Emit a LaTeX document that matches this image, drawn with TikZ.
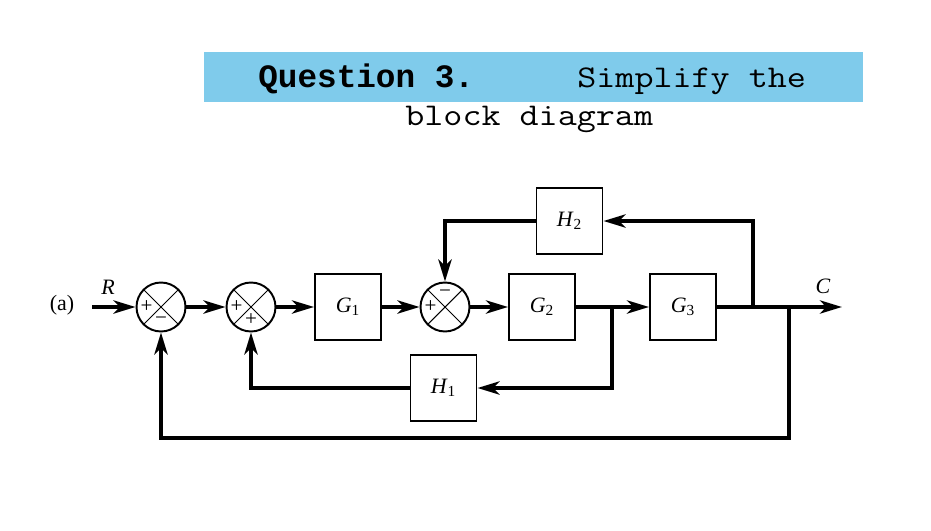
\documentclass[tikz,border=0pt]{standalone}
\usepackage{fontspec}
\setmainfont{Liberation Serif}
\setmonofont{Liberation Mono}
\newfontfamily\thinmono[FakeStretch=1.17]{Latin Modern Mono}
\usetikzlibrary{arrows.meta}
\definecolor{banner}{RGB}{127,203,235}
\begin{document}
\begin{tikzpicture}[x=0.02cm,y=-0.02cm,
  sig/.style={line width=2.2pt, -{Stealth[length=12.5pt,width=7.5pt,inset=3.5pt]}},
  blk/.style={draw, line width=1.1pt, minimum width=1.32cm, minimum height=1.32cm, inner sep=0pt, font=\fontsize{12.5}{14}\selectfont},
  sumj/.style={draw, circle, line width=1.1pt, minimum size=0.98cm, inner sep=0pt},
  sgn/.style={font=\fontsize{12}{12}\selectfont, inner sep=0pt},
  lbl/.style={font=\fontsize{12.5}{14}\selectfont, inner sep=0pt},
  monob/.style={font=\ttfamily\bfseries\fontsize{18.6}{20}\selectfont, inner sep=0pt, anchor=base west},
  mono/.style={font=\thinmono\fontsize{18}{20}\selectfont, inner sep=0pt, anchor=base west}]
\useasboundingbox (0,0) rectangle (931,531);
% banner
\fill[banner] (204,52) rectangle (863,102);
\node[monob] (q) at (258,87) {Question 3.};
\node[mono] (s) at (577,87) {Simplify the};
\node[mono] (b) at (405,125) {block diagram};
% blocks
\node[sumj] (s1) at (161,307) {};
\node[sumj] (s2) at (251,307) {};
\node[sumj] (s3) at (445,307) {};
\node[blk] (G1) at (348,307) {\textit{G}\textsubscript{1}};
\node[blk] (G2) at (542,307) {\textit{G}\textsubscript{2}};
\node[blk] (G3) at (683,307) {\textit{G}\textsubscript{3}};
\node[blk] (H2) at (569.5,221) {\textit{H}\textsubscript{2}};
\node[blk] (H1) at (443.5,388) {\textit{H}\textsubscript{1}};
\foreach \s in {s1,s2,s3}{
  \draw[line width=0.6pt] (\s.45) -- (\s.225);
  \draw[line width=0.6pt] (\s.135) -- (\s.315);
}
% signs
\node[sgn] (p1) at ([xshift=-0.29cm]s1.center) {+};
\node[sgn] (m1) at ([yshift=-0.27cm]s1.center) {−};
\node[sgn] (p2) at ([xshift=-0.29cm]s2.center) {+};
\node[sgn] (p3) at ([yshift=-0.26cm]s2.center) {+};
\node[sgn] (p4) at ([xshift=-0.29cm]s3.center) {+};
\node[sgn] (m3) at ([yshift=0.27cm]s3.center) {−};
% labels
\node[lbl] (a) at (62,305) {(a)};
\node[lbl] (R) at (108,287) {\textit{R}};
\node[lbl] (C) at (823,286) {\textit{C}};
% coordinates
\coordinate (in) at (92,307);
\coordinate (out) at (842,307);
\coordinate (j1) at (612,307);
\coordinate (j3) at (753,307);
\coordinate (j2) at (789,307);
\coordinate (b1) at (789,438);
% main path
\draw[sig] (in) -- (s1);
\draw[sig] (s1) -- (s2);
\draw[sig] (s2) -- (G1);
\draw[sig] (G1) -- (s3);
\draw[sig] (s3) -- (G2);
\draw[sig] (G2) -- (G3);
\draw[sig] (G3) -- (out);
% feedbacks
\draw[sig] (j3) |- (H2.east);
\draw[sig] (H2.west) -| (s3.north);
\draw[sig] (j1) |- (H1.east);
\draw[sig] (H1.west) -| (s2.south);
\draw[sig] (j2) -- (b1) -| (s1.south);
\end{tikzpicture}
\end{document}
